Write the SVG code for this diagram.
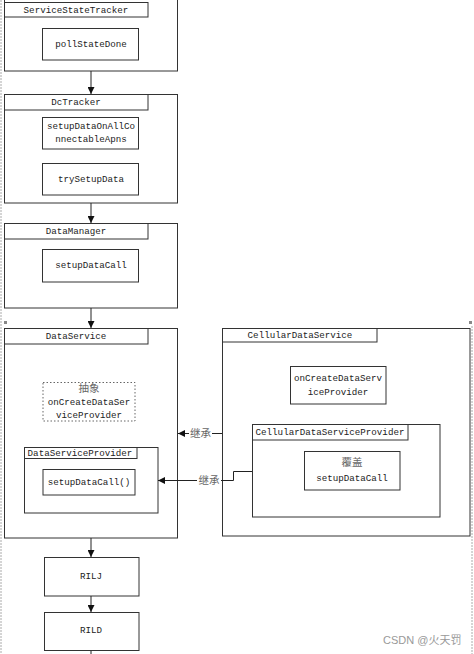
<svg xmlns="http://www.w3.org/2000/svg" width="474" height="654" viewBox="0 0 474 654">
<defs>
<marker id="ah" viewBox="0 0 10 10" refX="10" refY="5" markerWidth="7" markerHeight="7" markerUnits="userSpaceOnUse" orient="auto">
<path d="M0,0 L10,5 L0,10 z" fill="#111"/>
</marker>
<style>
.box{fill:#fff;stroke:#333;stroke-width:1}
.dot{fill:none;stroke:#666;stroke-width:1;stroke-dasharray:1.5 2}
.t{font-family:"Liberation Mono","DejaVu Sans Mono",monospace;font-size:9.2px;fill:#222;text-anchor:middle}
.cn{font-family:"Noto Sans CJK SC",sans-serif;font-size:10.5px;fill:#666;text-anchor:middle}
.ln{fill:none;stroke:#222;stroke-width:1}
.edge{fill:none;stroke:#aaa;stroke-width:1;stroke-dasharray:2 1}
.wm{font-family:"Liberation Sans","Noto Sans CJK SC",sans-serif;font-size:11px;fill:#999}
</style>
</defs>
<rect width="474" height="654" fill="#fff"/>
<line class="edge" x1="1" y1="0" x2="1" y2="654"/>
<line class="edge" x1="472" y1="326" x2="472" y2="654"/>
<rect x="4" y="321" width="3" height="3" fill="#888"/>
<rect x="469" y="321" width="3" height="3" fill="#888"/>

<g id="ServiceStateTracker">
<rect class="box" x="4.5" y="-2" width="173" height="73"/>
<rect class="box" x="4.5" y="2.5" width="143.5" height="14.5"/>
<text class="t" x="76" y="13">ServiceStateTracker</text>
<rect class="box" x="42.5" y="28.5" width="96" height="31.5"/>
<text class="t" x="91" y="47">pollStateDone</text>
</g>

<g id="DcTracker">
<rect class="box" x="4.5" y="94.5" width="173" height="108.5"/>
<rect class="box" x="4.5" y="94.5" width="143.5" height="15.5"/>
<text class="t" x="76" y="105">DcTracker</text>
<rect class="box" x="42.5" y="117.5" width="96" height="31.5"/>
<text class="t" x="91" y="129">setupDataOnAllCo</text>
<text class="t" x="91" y="142">nnectableApns</text>
<rect class="box" x="42.5" y="163.5" width="96" height="31.5"/>
<text class="t" x="91" y="182">trySetupData</text>
</g>

<g id="DataManager">
<rect class="box" x="4.5" y="223.5" width="173" height="84.5"/>
<rect class="box" x="4.5" y="223.5" width="143.5" height="15.5"/>
<text class="t" x="76" y="234">DataManager</text>
<rect class="box" x="42.5" y="249.5" width="96" height="32.5"/>
<text class="t" x="91" y="268">setupDataCall</text>
</g>

<g id="DataService">
<rect class="box" x="4.5" y="328.5" width="173" height="209.5"/>
<rect class="box" x="4.5" y="328.5" width="143.5" height="15.5"/>
<text class="t" x="76" y="339">DataService</text>
<rect class="dot" x="43" y="382.5" width="92" height="38.5"/>
<text class="cn" x="89" y="392">抽象</text>
<text class="t" x="89" y="405">onCreateDataSer</text>
<text class="t" x="89" y="418">viceProvider</text>
</g>

<g id="DataServiceProvider">
<rect class="box" x="24.5" y="447.5" width="133.5" height="65.5"/>
<rect class="box" x="24.5" y="447.5" width="112.5" height="11"/>
<text class="t" x="80" y="456">DataServiceProvider</text>
<rect class="box" x="43" y="469.5" width="92" height="25.5"/>
<text class="t" x="89" y="485">setupDataCall()</text>
</g>

<g id="CellularDataService">
<rect class="box" x="222.5" y="328.5" width="247.5" height="207.5"/>
<rect class="box" x="222.5" y="328.5" width="154.5" height="13.5"/>
<text class="t" x="300" y="338">CellularDataService</text>
<rect class="box" x="290.5" y="366.5" width="95.5" height="37.5"/>
<text class="t" x="338" y="381">onCreateDataServ</text>
<text class="t" x="338" y="395">iceProvider</text>
</g>

<g id="CellularDataServiceProvider">
<rect class="box" x="252.5" y="424.5" width="187.5" height="92.5"/>
<rect class="box" x="252.5" y="424.5" width="155.5" height="15.5"/>
<text class="t" x="330" y="435">CellularDataServiceProvider</text>
<rect class="box" x="304.5" y="451.5" width="95.5" height="38.5"/>
<text class="cn" x="352" y="466">覆盖</text>
<text class="t" x="352" y="481">setupDataCall</text>
</g>

<g id="RILJ">
<rect class="box" x="44.5" y="557.5" width="94.5" height="38.5"/>
<text class="t" x="91" y="579">RILJ</text>
</g>

<g id="RILD">
<rect class="box" x="44.5" y="612.5" width="94.5" height="38"/>
<text class="t" x="91" y="633">RILD</text>
</g>

<g id="connectors">
<line class="ln" x1="91" y1="71" x2="91" y2="94" marker-end="url(#ah)"/>
<line class="ln" x1="91" y1="203" x2="91" y2="223" marker-end="url(#ah)"/>
<line class="ln" x1="91" y1="308" x2="91" y2="328" marker-end="url(#ah)"/>
<line class="ln" x1="91" y1="538" x2="91" y2="557" marker-end="url(#ah)"/>
<line class="ln" x1="91" y1="596" x2="91" y2="612" marker-end="url(#ah)"/>
<line class="ln" x1="91" y1="651" x2="91" y2="654"/>
<line class="ln" x1="222" y1="433.5" x2="212" y2="433.5"/>
<line class="ln" x1="189" y1="433.5" x2="178" y2="433.5" marker-end="url(#ah)"/>
<text class="cn" x="200.5" y="437">继承</text>
<polyline class="ln" points="252,471.5 233.5,471.5 233.5,480.5 221,480.5"/>
<line class="ln" x1="197" y1="480.5" x2="158" y2="480.5" marker-end="url(#ah)"/>
<text class="cn" x="209" y="484">继承</text>
</g>

<text class="wm" x="383" y="644">CSDN @火天罚</text>
</svg>
